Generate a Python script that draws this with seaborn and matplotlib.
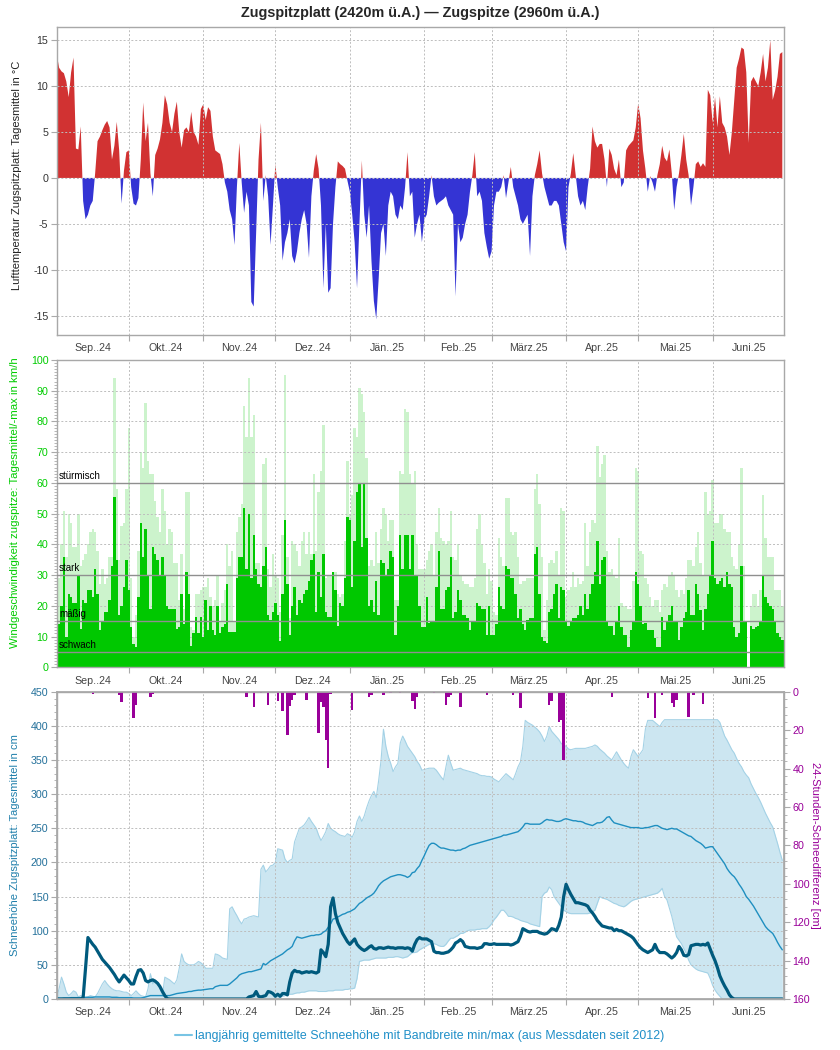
import numpy as np
import pandas as pd
import matplotlib
matplotlib.use("Agg")
import matplotlib.pyplot as plt
import matplotlib.dates as mdates
from matplotlib.lines import Line2D
from matplotlib.ticker import FixedLocator, FixedFormatter, NullFormatter, MultipleLocator
import seaborn as sns

# daily values 1 Sep 2024 - 30 Jun 2025 (303 days)
start = pd.Timestamp("2024-09-01")

temp_mean = [
    13.5, 12, 11.6, 11.4, 10.5, 8.8, 11.5, 13.1, 3.2, 3.1,
    5.6, -2.5, -4.5, -4, -3, -2.5, 0.5, 4, 4.5, 5.2,
    5.8, 6.2, 5.5, 2, 3.5, 6.1, 3, -2.8, 0.8, 2.8,
    3.0, -1, -2.8, -3, -2.2, 2, 8.2, 4, 6, 0.5,
    -2, 2.5, 3.2, 4.2, 6, 9, 8, 6, 5, 7,
    8.3, 5, 3.3, 5.2, 5.5, 5, 7.2, 5, 4.5, 3.6,
    7.5, 8, 6.3, 7.7, 7.3, 4.5, 3, 2.8, 2.6, 1.5,
    -0.5, -1.5, -3.5, -4.5, -7.3, -1, 3.8, -0.5, -3.8, -1.5,
    -3, -13.5, -14, -6, 2, 6, -2.5, 0.3, -2, -7.3,
    -3, 1.5, -1, -3, -9, -7, -6, -4.5, -8.5, -9.3,
    -8, -6, -4.5, -3.5, -5, -8.7, -2, 0.8, 2.6, 1,
    -3, -12, -5, -12.5, -12, -5, -1, 1.8, 1.5, 1.3,
    1, -0.3, -1.5, -4, -7, -12, -5, 1.9, -4, -6.5,
    -3, -9, -13.4, -15.4, -11, -6, -5, -8.5, -3, -1.5,
    -2, -4, -4.5, -3, -3.5, -1, 2.8, -2, -1.5, -6.5,
    -5, -4, -7, -4.5, -4, -2, 0.3, -2, -3, -2.7,
    -2.5, -2.3, -2, -3, -3.5, -4, -12.9, -5, -7, -6.5,
    -5, -4, -1.5, 0.3, 2.8, -2, -1.5, -2.5, -6, -7.5,
    -8.8, -8, -3, -1.5, -1.5, -1, 0.3, -2.2, -0.5, 1.2,
    -1, -2, -3, -4.5, -5, -4.5, -4, -8.5, -2, 0.3,
    1.5, 3, 0.5, -1, -2, -3, -3, -2.5, -2.5, -3,
    -5, -7, -8, -1, 0.5, 2.7, 0.3, -2, -3, -2.5,
    -3.5, -1, 1, 5.6, 4, 3.3, 3.7, 3.7, 2, -1,
    3.2, 2.5, 1, 0.3, 2, -1, -0.5, 3, 3.5, 3.8,
    4.1, 5.5, 8.1, 6.5, 3, 1, -1.5, 0.2, -0.5, -1.5,
    0.3, 1.5, 3.5, 2.2, 1.8, 3.1, 0.5, -3.5, -1, 0.5,
    2.5, 4.8, 2, 0.3, -3, -1, 1.5, 1.8, 1.2, 1.6,
    1.2, 9.6, 9, 6, 8.8, 5.5, 8.9, 6, 5.5, 4.5,
    2.5, 5, 8.5, 12, 13, 14.2, 14, 11.5, 3.8, 10.5,
    11, 10.5, 10, 11.5, 13.5, 10.5, 12, 15, 8.5, 9.5,
    11, 13.5, 13.7,
]

wind_max = [
    36, 29, 40, 51, 36, 50, 47, 39, 39, 50,
    33, 35, 37, 40, 44, 45, 44, 38, 27, 32,
    27, 29, 36, 36, 94, 58, 35, 46, 47, 58,
    78, 29, 10, 17, 38, 70, 65, 86, 67, 63,
    63, 54, 49, 44, 58, 51, 40, 45, 44, 34,
    34, 22, 37, 19, 57, 57, 13, 12, 24, 24,
    25, 26, 26, 29, 23, 20, 22, 30, 15, 21,
    25, 40, 33, 38, 15, 44, 49, 53, 85, 75,
    94, 75, 82, 34, 34, 30, 66, 68, 32, 26,
    37, 30, 29, 18, 43, 95, 36, 16, 41, 40,
    38, 33, 41, 44, 37, 44, 37, 63, 38, 57,
    64, 79, 29, 30, 30, 31, 31, 24, 23, 24,
    41, 67, 50, 56, 78, 75, 91, 89, 83, 68,
    33, 35, 33, 44, 34, 45, 52, 50, 41, 48,
    48, 22, 22, 64, 63, 84, 83, 63, 60, 64,
    40, 32, 32, 32, 35, 38, 40, 30, 44, 52,
    42, 41, 40, 41, 51, 36, 35, 40, 30, 28,
    27, 27, 26, 26, 29, 45, 50, 40, 34, 24,
    32, 28, 18, 17, 42, 36, 33, 55, 55, 44,
    43, 44, 36, 27, 28, 28, 29, 29, 29, 58,
    63, 53, 36, 12, 22, 34, 35, 34, 38, 30,
    52, 51, 23, 25, 26, 31, 26, 29, 27, 28,
    47, 33, 44, 48, 47, 72, 62, 66, 69, 38,
    31, 32, 30, 29, 42, 21, 20, 20, 19, 19,
    28, 65, 64, 38, 37, 29, 27, 23, 20, 22,
    22, 18, 25, 27, 26, 30, 31, 30, 25, 23,
    25, 24, 29, 35, 35, 33, 39, 44, 34, 30,
    57, 50, 51, 61, 47, 47, 50, 50, 45, 44,
    44, 36, 33, 32, 40, 65, 33, 15, 0, 20,
    24, 24, 20, 25, 56, 42, 36, 36, 36, 25,
    25, 25, 20,
]

wind_mean = [
    14, 14, 20, 36, 10, 24, 23, 21, 21, 30,
    12.6, 22, 21, 25, 25, 23, 32, 24, 12, 15,
    18, 18, 22, 33, 55.5, 35, 17, 20, 26, 35,
    25, 13, 7.5, 6.5, 23, 47, 36, 45, 30, 19,
    39, 37, 35, 30, 36, 30, 20, 19, 19, 19,
    12.5, 13, 24, 14, 31, 24, 7, 11, 16.5, 11,
    16.5, 10, 22, 12, 20, 12, 10.5, 20, 11, 13,
    14, 27, 11.5, 11.5, 11.5, 29, 36, 36, 52, 32,
    50, 29, 43, 32, 27, 26, 33, 39, 17, 15.5,
    18, 21, 17, 8.5, 24, 48, 27, 10.5, 20, 26,
    17, 22, 21, 24, 25, 28, 35, 37, 18, 31,
    23, 37, 18, 16.5, 16.5, 31, 25, 13.5, 21, 20,
    29, 49, 48, 26, 41, 57, 60, 39, 60, 42,
    20, 22, 18, 28, 17, 35, 34, 30, 32, 38,
    36, 10.5, 20, 43, 32, 43, 43, 32, 43, 30,
    30, 20, 13, 13, 23, 14.5, 15, 15, 26, 38,
    19, 19, 25, 26, 36, 16, 18, 25, 22, 17,
    17, 16, 12, 15, 15, 21, 20, 19, 19, 10.5,
    20, 10.5, 10.5, 14, 26, 20, 19, 33, 32, 29,
    29, 24, 16, 19, 14, 12, 15.5, 16, 16, 37,
    39, 24, 10, 8.5, 8, 18, 19, 24, 27, 16,
    26, 25, 15, 13.5, 15, 16, 16, 17, 20, 17,
    24, 19, 24, 27, 31, 41, 27, 35, 36, 15,
    13.5, 13.5, 10.5, 15, 20, 13, 10.5, 10.5, 6.5, 12,
    15, 31, 27, 20, 14, 14.5, 12, 12, 12, 9.5,
    6.5, 6.5, 16.5, 12, 15, 17, 20, 15, 15, 9,
    13, 16, 18, 25, 17, 17, 27, 24, 18.5, 12,
    19, 24, 30, 41, 29, 27, 28, 29, 26, 31,
    27, 26, 13, 10, 11, 33, 15, 15, 0, 13.5,
    12.5, 13, 13.5, 15, 30, 23, 21, 20, 19, 15,
    11, 10, 9,
]

snow_depth = [
    0, 0, 0, 0, 0, 0, 0, 0, 0, 0,
    0, 2, 45, 90, 85, 80, 76, 70, 64, 58,
    54, 50, 46, 41, 36, 30, 25, 30, 35, 31,
    27, 22, 22, 33, 42, 43, 38, 27, 25, 27,
    28, 26, 23, 18, 11, 5, 0.5, 0, 0, 0,
    0, 0, 0, 0, 0, 0, 0, 0, 0, 0,
    0, 0, 0, 0, 0, 0, 0, 0, 0, 0,
    0, 0, 0, 0, 0, 0, 0, 0, 0, 0,
    3, 4, 5, 11, 4, 3, 4, 5, 11, 10,
    8, 4, 7, 4, 8, 8, 6, 25, 38, 42,
    40, 40, 38, 39, 40, 39, 40, 39, 38, 40,
    72, 68, 62, 80, 135, 148, 125, 112, 104, 96,
    90, 84, 80, 84, 88, 80, 76, 73, 71, 73,
    76, 78, 74, 73, 75, 75, 74, 75, 76, 75,
    75, 74, 75, 75, 75, 74, 75, 74, 70, 80,
    87, 90, 88, 88, 88, 86, 84, 70, 68, 68,
    67, 67, 68, 69, 72, 76, 82, 84, 87, 84,
    77, 76, 75, 75, 75, 74, 75, 76, 81, 81,
    80, 80, 81, 80, 80, 80, 80, 80, 80, 79,
    80, 82, 84, 92, 103, 101, 99, 98, 99, 99,
    99, 97, 96, 95, 96, 99, 103, 102, 100, 108,
    120, 150, 168, 160, 153, 147, 141, 141, 140, 139,
    138, 136, 130, 126, 121, 115, 111, 107, 106, 105,
    104, 104, 100, 102, 100, 100, 98, 96, 94, 92,
    89, 84, 79, 75, 72, 70, 68, 70, 72, 80,
    72, 68, 68, 68, 66, 63, 60, 63, 68, 77,
    72, 64, 63, 65, 78, 79, 80, 80, 79, 80,
    79, 82, 73, 64, 56, 46, 34, 26, 19, 13,
    6, 2, 0, 0, 0, 0, 0, 0, 0, 0,
    0, 0, 0, 0, 0, 0, 0, 0, 0, 0,
    0, 0, 0,
]

# long-term mean snow depth with min/max band (since 2012)
clim_mean = [
    1, 1, 1, 1.5, 1.5, 1.5, 2, 2, 2, 2,
    2, 2, 2.5, 2.5, 2.5, 2.5, 3, 3, 3, 3,
    3, 3, 3, 2.5, 2.5, 2.5, 2, 2, 2, 2,
    2, 2, 1.5, 1.5, 1.5, 1.5, 2, 3, 4, 5,
    5, 5, 5, 5, 5, 4.5, 5, 5, 6, 7,
    8, 8.5, 9, 9.5, 10, 11, 11, 12, 12.5, 13,
    13, 13.5, 14, 14.5, 15, 15, 18, 19, 20, 20,
    20, 20, 22, 25, 28, 31, 35, 37, 38, 39,
    40, 40, 41, 42, 43, 44, 52, 50, 53, 56,
    58, 60, 62, 64, 66, 69, 72, 74, 77, 85,
    91, 90, 89, 90, 91, 92, 93, 93, 94, 94,
    95, 98, 100, 105, 110, 117, 118, 120, 122, 124,
    125, 127, 128, 130, 132, 136, 140, 142, 145, 148,
    150, 152, 155, 160, 166, 170, 173, 175, 177, 179,
    180, 181, 182, 182, 181, 180, 178, 180, 185, 186,
    191, 195, 203, 210, 218, 225, 228, 228, 226, 223,
    221, 221, 220, 219, 218, 218, 217, 218, 218, 220,
    221, 223, 225, 226, 227, 228, 229, 230, 231, 232,
    233, 234, 235, 236, 237, 238, 240, 240, 241, 242,
    243, 244, 245, 248, 252, 257, 257, 256, 256, 256,
    256, 256, 258, 261, 263, 262, 262, 261, 260, 260,
    261, 263, 264, 263, 262, 261, 261, 260, 260, 259,
    257, 256, 255, 254, 256, 258, 258, 259, 262, 266,
    267, 262, 258, 257, 256, 255, 254, 253, 252, 251,
    251, 251, 251, 250, 250, 251, 251, 252, 253, 254,
    254, 252, 250, 249, 248, 249, 250, 249, 249, 247,
    245, 243, 241, 239, 238, 235, 232, 230, 228, 225,
    221, 222, 223, 223, 218, 213, 208, 203, 198, 191,
    186, 182, 179, 174, 168, 163, 157, 150, 146, 141,
    136, 130, 124, 118, 112, 106, 102, 99, 96, 90,
    83, 77, 72,
]

clim_min = [
    0, 0, 0, 0, 0, 0, 0, 0, 0, 0,
    0, 0, 0, 0, 0, 0, 0, 0, 0, 0,
    0, 0, 0, 0, 0, 0, 0, 0, 0, 0,
    0, 0, 0, 0, 0, 0, 0, 0, 0, 0,
    0, 0, 0, 0, 0, 0, 0, 0, 0, 0,
    0, 0, 0, 0, 0, 0, 0, 0, 0, 0,
    0, 0, 0, 0, 0, 0, 0, 0, 0, 0,
    0, 0, 0, 0, 0, 0, 0, 0, 0, 0,
    0, 0, 0, 0, 0, 0, 0, 0, 0, 0,
    0, 0, 0, 3, 4, 5, 6, 7, 7, 8,
    9, 9, 10, 10, 11, 12, 12, 12, 12, 11,
    11, 11, 11, 12, 12, 12, 13, 13, 13, 13,
    14, 14, 15, 15, 16, 30, 55, 56, 57, 57,
    57, 58, 59, 60, 60, 60, 60, 60, 61, 61,
    61, 62, 62, 61, 60, 61, 62, 65, 68, 68,
    69, 72, 74, 76, 78, 80, 81, 81, 80, 78,
    77, 77, 80, 85, 89, 89, 91, 93, 96, 96,
    98, 100, 101, 101, 101, 102, 102, 103, 103, 103,
    106, 110, 116, 120, 125, 130, 130, 126, 121, 121,
    120, 118, 117, 115, 114, 113, 112, 110, 109, 108,
    107, 106, 150, 155, 157, 164, 160, 150, 145, 140,
    135, 130, 128, 126, 125, 125, 125, 125, 125, 125,
    125, 125, 126, 128, 130, 140, 150, 148, 147, 146,
    144, 142, 140, 139, 137, 136, 135, 137, 140, 143,
    145, 146, 147, 148, 149, 150, 151, 152, 153, 154,
    155, 158, 162, 150, 145, 133, 121, 106, 91, 86,
    81, 74, 67, 57, 50, 47, 44, 42, 41, 40,
    39, 38, 30, 20, 13, 8, 4, 0, 0, 0,
    0, 0, 0, 0, 0, 0, 0, 0, 0, 0,
    0, 0, 0, 0, 0, 0, 0, 0, 0, 0,
    0, 0, 0,
]

clim_max = [
    3, 15, 32, 22, 10, 5, 8, 12, 10, 3,
    5, 3, 2, 3, 5, 4, 3, 8, 15, 22,
    27, 22, 18, 15, 13, 12, 12, 11, 10, 10,
    8, 5, 8, 12, 8, 5, 4, 3, 15, 37,
    22, 28, 24, 20, 5, 32, 30, 28, 25, 22,
    28, 45, 66, 55, 52, 50, 50, 50, 52, 55,
    53, 50, 45, 45, 45, 45, 66, 65, 63, 60,
    59, 58, 132, 135, 128, 122, 115, 110, 117, 118,
    120, 121, 122, 121, 120, 190, 196, 186, 190, 195,
    196, 200, 220, 219, 218, 205, 200, 203, 205, 230,
    240, 250, 252, 255, 260, 266, 260, 255, 250, 240,
    232, 238, 245, 257, 250, 247, 245, 242, 240, 239,
    238, 242, 240, 237, 245, 260, 268, 260, 268, 280,
    290, 298, 304, 295, 320, 350, 395, 370, 355, 345,
    333, 340, 345, 375, 385, 378, 370, 365, 360, 355,
    348, 343, 335, 336, 337, 338, 338, 338, 335, 330,
    325, 321, 340, 357, 345, 335, 336, 337, 338, 336,
    335, 334, 333, 332, 331, 330, 328, 327, 327, 326,
    326, 325, 322, 320, 318, 322, 326, 330, 327, 324,
    321, 330, 340, 347, 370, 408, 405, 403, 401, 398,
    395, 391, 385, 377, 385, 399, 392, 388, 384, 380,
    374, 372, 370, 366, 365, 366, 367, 367, 367, 367,
    367, 368, 369, 370, 372, 370, 366, 363, 360, 356,
    353, 350, 356, 362, 356, 350, 345, 341, 338, 355,
    365, 360, 355, 360, 365, 395, 408, 408, 408, 405,
    402, 399, 405, 409, 409, 409, 409, 409, 409, 409,
    409, 409, 409, 409, 409, 409, 409, 409, 409, 409,
    409, 409, 409, 409, 409, 409, 405, 395, 385, 379,
    372, 365, 360, 352, 345, 340, 333, 328, 324, 315,
    308, 301, 295, 288, 280, 272, 265, 258, 252, 240,
    228, 215, 203,
]

# 24h new snow (days after 1 Sep 2024, cm)
snow_diff_day = [15, 26, 27, 32, 33, 39, 40, 79, 82, 85, 88, 92, 94, 96, 97, 98, 99,
                 104, 109, 110, 111, 112, 113, 114, 123, 130, 131, 136, 139, 143, 148, 149, 150,
                 157, 162, 163, 164, 168, 179, 190, 193, 194, 205, 206, 209, 210, 211,
                 231, 246, 249, 252, 256, 257, 258, 263, 265, 269]
snow_diff_cm = [1.2, 1.5, 5.2, 13.5, 7, 2.6, 1, 2.6, 7.8, 0.5, 7, 4.7, 10, 22.6, 7.5, 4.3, 1.7,
                4.3, 21.4, 5.2, 7.8, 25, 39.6, 1, 9.5, 2.6, 1.7, 1.7, 0.9, 0.5, 4.7, 9.2, 2.6,
                0.9, 7, 2.6, 1.7, 7.8, 1.7, 1.7, 8.7, 0.9, 7, 4.7, 15.6, 14.8, 35.6,
                2.6, 3.5, 13.5, 1.7, 5.7, 7.8, 4.3, 13, 1.7, 6.6]

month_labels = ["Sep..24", "Okt..24", "Nov..24", "Dez..24", "Jän..25",
                "Feb..25", "März.25", "Apr..25", "Mai.25", "Juni.25"]
wind_levels = [60, 30, 15, 5]
wind_names = ["stürmisch", "stark", "mäßig", "schwach"]

series = {"temp": temp_mean, "wmax": wind_max, "wmean": wind_mean, "snow": snow_depth,
          "cmean": clim_mean, "cmin": clim_min, "cmax": clim_max}
lens = {k: len(v) for k, v in series.items()}
if len(set(lens.values())) != 1:
    raise ValueError(f"length mismatch: {lens}")

dates = pd.date_range(start, periods=len(temp_mean), freq="D")
df = pd.DataFrame(series)
df["x"] = mdates.date2num(dates.to_pydatetime())
diff = pd.DataFrame({"x": mdates.date2num(start.to_pydatetime()) + np.array(snow_diff_day),
                     "cm": snow_diff_cm})

# style
sns.set_theme(style="white")
plt.rcParams["font.family"] = ["Liberation Sans", "DejaVu Sans"]
plt.rcParams["axes.unicode_minus"] = False

W_PX, H_PX = 840, 1050
fig = plt.figure(figsize=(W_PX / 100, H_PX / 100), dpi=100)
LEFT, RIGHT = 56.7, 784


def panel(top, bottom):
    return fig.add_axes([LEFT / W_PX, 1 - bottom / H_PX, (RIGHT - LEFT) / W_PX, (bottom - top) / H_PX])


ax1 = panel(27.3, 335)
ax2 = panel(360, 667.3)
ax3 = panel(691.7, 999)

x0 = mdates.date2num(start.to_pydatetime())
x1 = x0 + 302.7
months = pd.date_range("2024-09-01", periods=10, freq="MS")
month_starts = mdates.date2num(months[1:].to_pydatetime())
month_mids = [mdates.date2num(m.to_pydatetime()) + m.days_in_month / 2 for m in months]
grid_kw = dict(color="#bdbdbd", linestyle=(0, (2, 2)), linewidth=0.7)


def style_axes(ax, ycolor):
    ax.set_xlim(x0, x1)
    ax.xaxis.set_major_locator(FixedLocator(month_starts))
    ax.xaxis.set_major_formatter(NullFormatter())
    ax.xaxis.set_minor_locator(FixedLocator(month_mids))
    ax.xaxis.set_minor_formatter(FixedFormatter(month_labels))
    ax.tick_params(axis="x", which="major", length=4, width=0.8, color="#aaaaaa", bottom=True)
    ax.tick_params(axis="x", which="minor", length=0, labelsize=7.7, labelcolor="#444444", pad=6)
    ax.tick_params(axis="y", which="major", length=4, width=0.8, color="#aaaaaa", left=True,
                   labelsize=7.7, labelcolor=ycolor, pad=2)
    ax.tick_params(axis="y", which="minor", length=2, width=0.6, color="#aaaaaa", left=True)
    ax.set_axisbelow("line")
    ax.grid(True, which="major", **grid_kw)
    ax.set_xlabel("")
    for sp in ax.spines.values():
        sp.set_color("#a8a8a8")
        sp.set_linewidth(1.0)


# --- temperature
t = df["temp"].to_numpy()
ax1.fill_between(df["x"], t, 0, where=t >= 0, interpolate=True, color="#d13232", lw=0)
ax1.fill_between(df["x"], t, 0, where=t <= 0, interpolate=True, color="#3434d4", lw=0)
ax1.set_ylim(-17.1, 16.4)
ax1.set_yticks([-15, -10, -5, 0, 5, 10, 15])
style_axes(ax1, "#333333")
ax1.set_ylabel("Lufttemperatur Zugspitzplatt: Tagesmittel in °C", fontsize=8, color="#222222")
ax1.yaxis.set_label_coords(-0.048, 0.52)

# --- wind
ax2.bar(df["x"], df["wmax"], width=1.0, color="#ccf3cc", lw=0, zorder=1, antialiased=False)
ax2.bar(df["x"], df["wmean"], width=1.0, color="#00c800", lw=0, zorder=2, antialiased=False)
for lev, name in zip(wind_levels, wind_names):
    ax2.axhline(lev, color="#8f8f8f", lw=1.0, zorder=3)
    ax2.text(x0 + 1.0, lev + 1.3, name, fontsize=7, color="black", zorder=4)
ax2.set_ylim(0, 100)
ax2.set_yticks(range(0, 101, 10))
ax2.yaxis.set_minor_locator(MultipleLocator(1))
style_axes(ax2, "#00cc00")
ax2.set_ylabel("Windgeschwindigkeit zugspitze: Tagesmittel/-max in km/h", fontsize=8.2, color="#00cc00")
ax2.yaxis.set_label_coords(-0.051, 0.535)

# --- snow depth
ax3.fill_between(df["x"], df["cmin"], df["cmax"], color="#cce6f1", lw=0, zorder=1)
ax3.plot(df["x"], df["cmax"], color="#a4d2e6", lw=0.8, zorder=1.2)
ax3.plot(df["x"], df["cmin"], color="#a4d2e6", lw=0.8, zorder=1.2)
sns.lineplot(data=df, x="x", y="cmean", ax=ax3, color="#1f8fc0", lw=1.0, zorder=3)
sns.lineplot(data=df, x="x", y="snow", ax=ax3, color="#005a7d", lw=2.3, zorder=4)
ax3.set_ylim(0, 450)
ax3.set_yticks(range(0, 451, 50))
ax3.yaxis.set_minor_locator(MultipleLocator(10))
style_axes(ax3, "#23709a")
ax3.set_ylabel("Schneehöhe Zugspitzplatt: Tagesmittel in cm", fontsize=8, color="#1f7fab")
ax3.yaxis.set_label_coords(-0.051, 0.50)

ax3b = ax3.twinx()
ax3b.bar(diff["x"], diff["cm"], width=1.0, color="#990099", lw=0, antialiased=False)
ax3b.set_ylim(160, 0)
ax3b.set_yticks(range(0, 161, 20))
ax3b.yaxis.set_minor_locator(MultipleLocator(4))
ax3b.tick_params(axis="y", which="major", length=4, width=0.8, color="#aaaaaa", right=True,
                 labelsize=7.7, labelcolor="#990099", pad=2)
ax3b.tick_params(axis="y", which="minor", length=2, width=0.6, color="#aaaaaa", right=True)
ax3b.grid(False)
for sp in ax3b.spines.values():
    sp.set_color("#a8a8a8")
ax3b.set_ylabel("24-Stunden-Schneedifferenz [cm]", fontsize=8, color="#990099", rotation=-90)
ax3b.yaxis.set_label_coords(1.049, 0.50)
ax3b.set_xlim(x0, x1)

# title and legend
fig.text(0.5, 1 - 13 / H_PX, "Zugspitzplatt (2420m ü.A.) — Zugspitze (2960m ü.A.)",
         ha="center", va="center", fontsize=10.4, fontweight="bold")
fig.legend(handles=[Line2D([0], [0], color="#78c4e4", lw=1.5)],
           labels=["langjährig gemittelte Schneehöhe mit Bandbreite min/max (aus Messdaten seit 2012)"],
           loc="center", bbox_to_anchor=(0.5, 1 - 1036 / H_PX), frameon=False, fontsize=8.9,
           labelcolor="#1f8fc8", handlelength=1.3, handletextpad=0.3)

fig.savefig("out.png", dpi=100)
